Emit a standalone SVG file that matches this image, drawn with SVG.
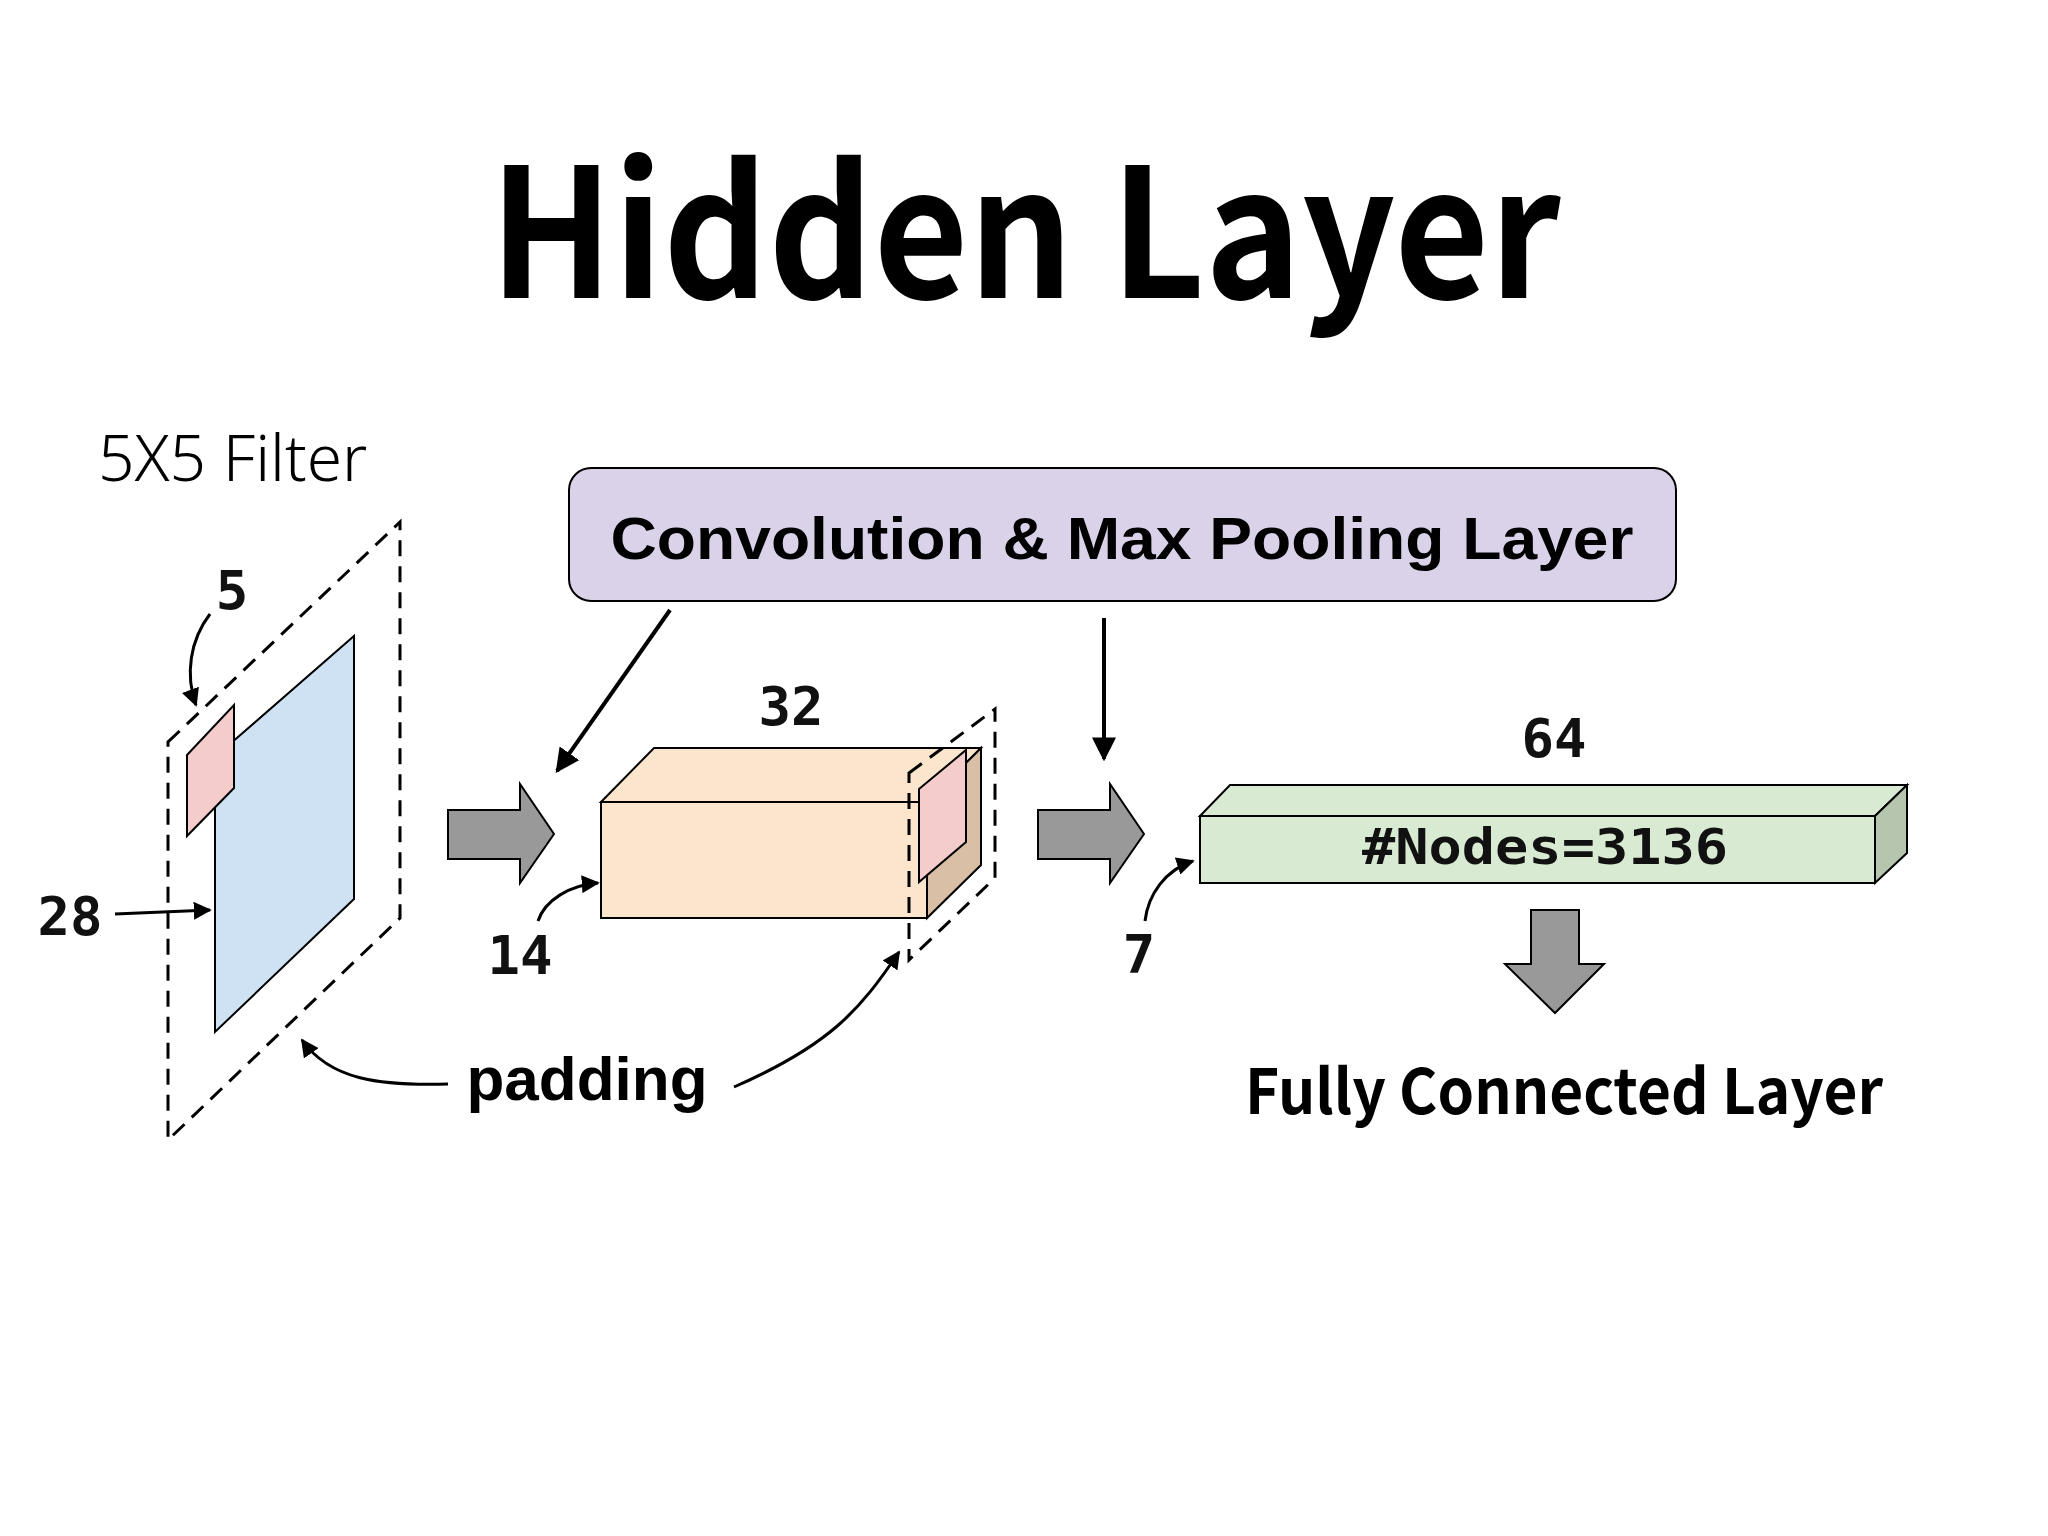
<svg xmlns="http://www.w3.org/2000/svg" width="2048" height="1536" viewBox="0 0 2048 1536">
<defs>
<marker id="ah" viewBox="0 0 10 10" refX="9" refY="5" markerWidth="6" markerHeight="6" orient="auto-start-reverse"><path d="M0,0 L10,5 L0,10 z" fill="#000"/></marker>
<style>
.k{font-family:"DejaVu Sans Mono","Liberation Mono",monospace;font-weight:bold;fill:#111}
.s{stroke:#000;stroke-width:2}
.d{fill:none;stroke:#000;stroke-width:3;stroke-dasharray:16,10}
.c{fill:none;stroke:#000;stroke-width:3;marker-end:url(#ah)}
.g{fill:#999;stroke:#000;stroke-width:2}
</style>
</defs>
<rect width="2048" height="1536" fill="#fff"/>
<text x="1025" y="298" text-anchor="middle" textLength="1071" lengthAdjust="spacingAndGlyphs" font-family="'Noto Sans CJK KR','Noto Sans',sans-serif" font-weight="bold" font-size="180">Hidden Layer</text>
<text x="98" y="481" font-family="'Noto Sans','Open Sans',sans-serif" font-weight="300" font-size="64">5X5 Filter</text>
<g id="conv-box"><rect x="569" y="468" width="1107" height="133" rx="22" fill="#d9d2e9" class="s"/>
<text x="1122" y="559" text-anchor="middle" textLength="1023" lengthAdjust="spacingAndGlyphs" font-family="'Liberation Sans',Arial,sans-serif" font-weight="bold" font-size="60">Convolution &amp; Max Pooling Layer</text></g>
<g id="input">
<polygon points="168,742 400,522 400,918 168,1140" class="d"/>
<polygon points="215,757 354,636 354,899 215,1032" fill="#cfe2f3" class="s"/>
<polygon points="187,755 234,705 234,788 187,836" fill="#f4cccc" class="s"/>
<text x="232" y="609" text-anchor="middle" class="k" font-size="54">5</text>
<text x="70" y="935" text-anchor="middle" class="k" font-size="54">28</text>
</g>
<g id="conv">
<polygon points="601,802 654,748 981,748 927,802" fill="#fce5cd" class="s"/>
<polygon points="927,802 981,748 981,865 927,918" fill="#d9bfa6" class="s"/>
<rect x="601" y="802" width="326" height="116" fill="#fce5cd" class="s"/>
<polygon points="909,773 995,709 995,878 909,960" class="d"/>
<polygon points="919,789 966,750 966,842 919,882" fill="#f4cccc" class="s"/>
<text x="791" y="725" text-anchor="middle" class="k" font-size="54">32</text>
<text x="520" y="974" text-anchor="middle" class="k" font-size="54">14</text>
</g>
<g id="fc-bar">
<polygon points="1200,816 1230,785 1907,785 1875,816" fill="#d9ead3" class="s"/>
<polygon points="1875,816 1907,785 1907,853 1875,883" fill="#b6c6ae" class="s"/>
<rect x="1200" y="816" width="675" height="67" fill="#d9ead3" class="s"/>
<text x="1545" y="864" text-anchor="middle" textLength="366" lengthAdjust="spacingAndGlyphs" class="k" font-size="50">#Nodes=3136</text>
<text x="1554" y="757" text-anchor="middle" class="k" font-size="54">64</text>
<text x="1139" y="973" text-anchor="middle" class="k" font-size="54">7</text>
</g>
<g id="fc-label"><text x="1564" y="1114" text-anchor="middle" textLength="638" lengthAdjust="spacingAndGlyphs" font-family="'Noto Sans CJK KR','Noto Sans',sans-serif" font-weight="bold" font-size="62">Fully Connected Layer</text></g>
<g id="padding-label"><text x="587" y="1100" text-anchor="middle" font-family="'Liberation Sans',Arial,sans-serif" font-weight="bold" font-size="62">padding</text></g>
<g id="connectors">
<polygon points="448,810 520,810 520,784 554,834 520,883 520,859 448,859" class="g"/>
<polygon points="1038,810 1110,810 1110,784 1144,834 1110,883 1110,859 1038,859" class="g"/>
<polygon points="1531,910 1579,910 1579,964 1604,964 1555,1013 1505,964 1531,964" class="g"/>
<line x1="670" y1="610" x2="557" y2="771" class="c" style="stroke-width:4"/>
<line x1="1104" y1="618" x2="1104" y2="759" class="c" style="stroke-width:4"/>
<path d="M210,614 C190,640 185,675 196,705" class="c"/>
<line x1="115" y1="914" x2="210" y2="910" class="c"/>
<path d="M538,921 C545,900 570,885 598,883" class="c"/>
<path d="M1145,921 C1148,895 1165,870 1193,861" class="c"/>
<path d="M448,1084 C380,1086 330,1080 302,1040" class="c"/>
<path d="M734,1087 C830,1045 860,1010 899,952" class="c"/>
</g>
</svg>
